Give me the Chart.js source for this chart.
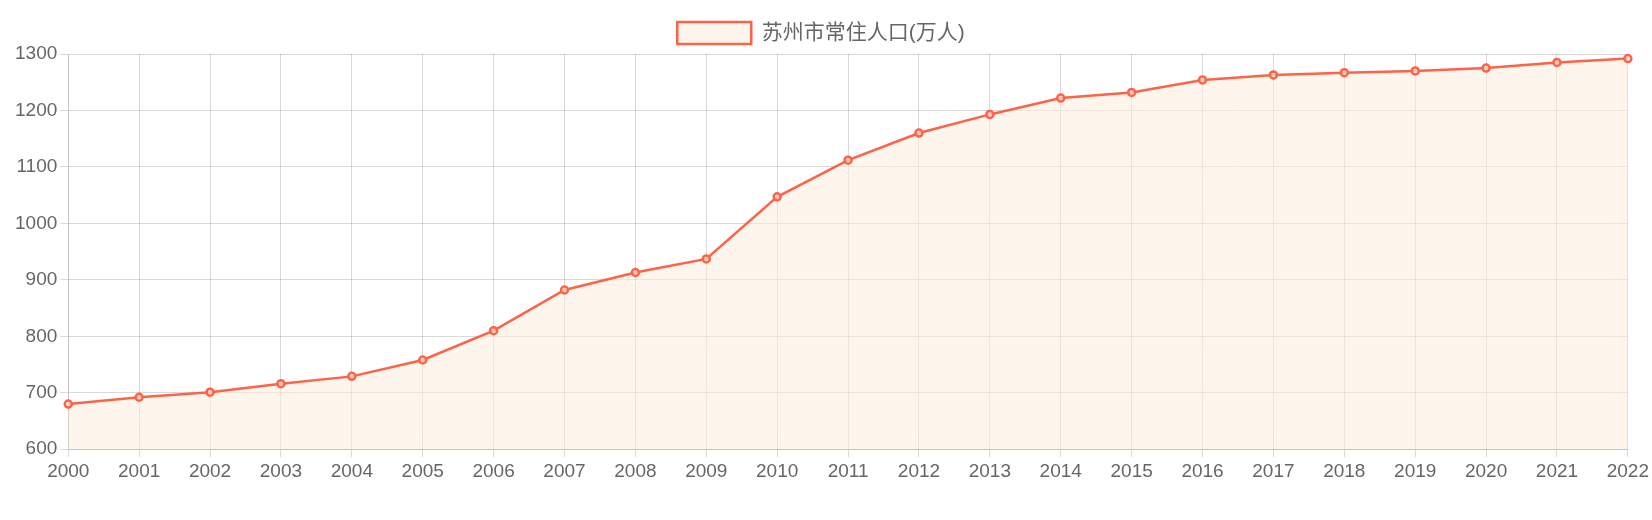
<!DOCTYPE html>
<html><head><meta charset="utf-8">
<script src="https://cdn.jsdelivr.net/npm/chart.js@4"></script>
<style>html,body{margin:0;padding:0;background:#fff}#w{width:1652px;height:520px}</style>
</head><body><div id="w"><canvas id="c"></canvas></div>
<script>
const years = ['2000','2001','2002','2003','2004','2005','2006','2007','2008','2009','2010','2011','2012','2013','2014','2015','2016','2017','2018','2019','2020','2021','2022'];
const population = [680,692,701,716,729,758,810,882,913,937,1047,1112,1160,1193,1222,1232,1254,1263,1267,1270,1275,1285,1292];
const seriesLabel = '苏州市常住人口(万人)';
Chart.defaults.font.family = '"Liberation Sans", Arial, "Noto Sans CJK SC", sans-serif';
Chart.defaults.font.size = 19;
Chart.defaults.color = '#666';
new Chart(document.getElementById('c'), {
  type: 'line',
  data: { labels: years, datasets: [{
    label: seriesLabel, data: population,
    borderColor: '#ff6347', backgroundColor: 'rgba(253,236,222,0.55)',
    fill: true, borderWidth: 2.5, tension: 0, pointRadius: 3.5,
    pointBorderWidth: 2.5, pointBackgroundColor: 'rgba(253,236,222,0.7)', pointBorderColor: '#ff6347'
  }]},
  options: {
    responsive: true, maintainAspectRatio: false, animation: false,
    layout: { padding: { left: 12, right: 22, top: 8, bottom: 34 } },
    plugins: { legend: { labels: { boxWidth: 74, boxHeight: 22, padding: 14, font: { size: 21 } } } },
    scales: {
      x: { grid: { color: 'rgba(0,0,0,0.15)' }, ticks: { font: { size: 19 } } },
      y: { min: 600, max: 1300, ticks: { stepSize: 100, font: { size: 19 }, callback: v => String(v) }, grid: { color: 'rgba(0,0,0,0.15)' } }
    }
  }
});
</script></body></html>
